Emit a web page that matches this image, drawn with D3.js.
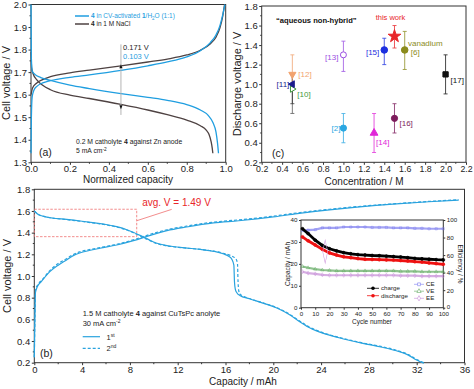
<!DOCTYPE html>
<html>
<head>
<meta charset="utf-8">
<script src="https://cdn.jsdelivr.net/npm/d3@7"></script>
<style>
  body { margin: 0; background: #fff; }
  svg { font-family: "Liberation Sans", Arial, sans-serif; }
</style>
</head>
<body>
<svg id="fig" width="474" height="389"></svg>
<script>
// ---- panel (a): normalized capacity vs voltage, [capacity, V]
var blueChg = [[0,1.34],[0.002,1.5],[0.006,1.59],[0.015,1.62],[0.03,1.637],[0.06,1.652],[0.1,1.662],[0.2,1.677],[0.3,1.688],[0.462,1.708],[0.6,1.728],[0.7,1.745],[0.8,1.768],[0.87,1.795],[0.92,1.83],[0.95,1.865],[0.97,1.905],[0.985,1.955],[0.996,2.0]];
var grayChg = [[0,1.60],[0.008,1.63],[0.03,1.652],[0.06,1.667],[0.1,1.68],[0.2,1.697],[0.3,1.709],[0.462,1.728],[0.6,1.745],[0.7,1.758],[0.8,1.776],[0.87,1.797],[0.92,1.825],[0.95,1.855],[0.97,1.895],[0.985,1.95],[0.994,2.0]];
var blueDis = [[0,2.0],[0.002,1.76],[0.006,1.705],[0.02,1.69],[0.05,1.676],[0.1,1.663],[0.2,1.642],[0.3,1.627],[0.462,1.605],[0.6,1.588],[0.7,1.575],[0.8,1.556],[0.87,1.532],[0.91,1.508],[0.935,1.475],[0.95,1.435],[0.958,1.385],[0.963,1.34]];
var grayDis = [[0,1.79],[0.003,1.72],[0.01,1.695],[0.03,1.666],[0.06,1.642],[0.1,1.622],[0.2,1.598],[0.3,1.583],[0.462,1.557],[0.6,1.532],[0.7,1.511],[0.8,1.487],[0.87,1.462],[0.9,1.443],[0.915,1.422],[0.925,1.392],[0.931,1.362],[0.934,1.34]];

// ---- panel (b): capacity (mAh) vs voltage
var chg1 = [[0,0.25],[0.05,0.6],[0.1,0.85],[0.25,0.9],[0.6,0.95],[1.3,1.04],[2,1.1],[2.7,1.148],[3.3,1.19],[3.8,1.212],[4.6,1.235],[5.5,1.256],[6.9,1.286],[8.3,1.326],[9.7,1.375],[11.1,1.418],[12.75,1.452],[15,1.49],[17.1,1.51],[20,1.545],[22,1.575],[24.7,1.61],[27,1.635],[30.3,1.665],[33,1.685],[35.5,1.70]];
var chg2 = [[0,0.25],[0.05,0.6],[0.1,0.87],[0.3,0.92],[0.7,0.97],[1.3,1.05],[2,1.115],[2.7,1.16],[3.3,1.2],[3.8,1.222],[4.6,1.243],[5.5,1.262],[6.9,1.293],[8.3,1.334],[9.7,1.385],[11.1,1.427],[12.75,1.46],[15,1.497],[17.1,1.518],[20,1.552],[22,1.582],[24.7,1.616],[27,1.64],[30.3,1.668],[33,1.688],[35.5,1.703]];
var dis1 = [[0,1.60],[0.3,1.57],[0.8,1.55],[1.5,1.535],[2.7,1.522],[4,1.505],[4.9,1.492],[6,1.475],[6.9,1.455],[7.8,1.425],[8.85,1.375],[9.5,1.34],[10.2,1.305],[10.9,1.285],[11.6,1.272],[12.8,1.258],[13.9,1.245],[15,1.228],[15.8,1.205],[16.3,1.18],[16.55,1.15],[16.7,1.10],[16.75,0.95],[16.82,0.88],[16.95,0.845],[17.2,0.82],[18,0.79],[19.2,0.748],[20.3,0.705],[21.4,0.64],[22.0,0.594],[23,0.525],[24.2,0.47],[25.5,0.43],[27.5,0.379],[29,0.345],[30.3,0.31],[31.3,0.27],[32,0.225],[32.6,0.195]];
var dis2 = [[0,1.60],[0.3,1.57],[0.8,1.55],[1.5,1.535],[2.7,1.52],[4,1.503],[4.9,1.49],[6,1.472],[6.9,1.452],[7.8,1.422],[8.85,1.37],[9.5,1.335],[10.2,1.30],[10.9,1.282],[11.6,1.27],[12.8,1.257],[13.9,1.245],[15,1.23],[15.8,1.21],[16.4,1.19],[16.85,1.16],[17.0,1.12],[17.05,0.95],[17.1,0.87],[17.2,0.835],[17.4,0.818],[18,0.792],[19.2,0.75],[20.3,0.707],[21.4,0.645],[22.0,0.6],[23,0.53],[24.2,0.475],[25.5,0.434],[27.5,0.382],[29,0.35],[30.3,0.315],[31.3,0.275],[32,0.23],[32.7,0.195]];
var avgV = 1.49;

// ---- inset: cycling
var cycles    = [1,5,10,15,20,25,30,35,40,45,50,55,60,65,70,75,80,85,90,95,100];
var capCharge = [36.0,33.8,30.8,28.4,26.9,25.9,25.1,24.6,24.2,24.0,23.8,23.7,23.5,23.3,23.1,22.8,22.5,22.3,22.1,21.9,21.8];
var capDisch  = [32.3,30.5,28.6,26.6,25.0,24.0,23.2,22.8,22.4,22.1,22.0,21.9,21.8,21.7,21.5,21.3,21.0,20.8,20.4,20.1,19.8];
var effCE     = [88,88.5,89,91,91,91,92,92,92,92,91.5,91.5,91.5,91,91,91,90.5,90.5,90,90,90];
var effVE     = [47,45.5,44,43,42.5,42,42,42,42,42,42,42,42,42,41.5,41.5,41.5,41,41,41,41];
var effEE     = [41,39.5,38.5,37.5,37,37,37,37,37,37,37,37,37,37,36.5,36.5,36.5,36,36,36,36];
var eeOutlier = [17, 64];

// ---- panel (c): literature comparison
var refs  = ["[2]","[10]","[11]","[12]","[13]","[14]","[15]","[16]","[6]","[17]","this work"];
var conc  = [1.0,0.5,0.5,0.5,1.0,1.3,1.4,1.5,1.6,2.0,1.5];
var volt  = [0.55,0.95,1.0,1.10,1.30,0.50,1.35,0.65,1.35,1.10,1.49];
var errLo = [0.40,0.70,0.80,0.95,1.13,0.30,1.20,0.50,1.15,0.90,1.37];
var errHi = [0.70,1.10,1.10,1.30,1.44,0.70,1.47,0.80,1.54,1.30,1.60];

var svg = d3.select("#fig");
var BLUE = "#1f9ee0", GRAY = "#4e4242", RED = "#e8262a";

// draws box, bottom + left axes with minor ticks
function frame(x, y, o) {
  var xr = x.range(), yr = y.range();
  var g = svg.append("g");
  var fs = o.fs || 9.5;
  var gx = g.append("g").attr("transform", "translate(0," + yr[0] + ")")
    .call(d3.axisBottom(x).tickValues(o.xt).tickFormat(o.xf).tickSizeInner(o.tk || 2.5).tickSizeOuter(0).tickPadding(o.xpad || 1.2));
  var gy = g.append("g").attr("transform", "translate(" + xr[0] + ",0)")
    .call(d3.axisLeft(y).tickValues(o.yt).tickFormat(o.yf).tickSizeInner(o.tk || 2.5).tickSizeOuter(0).tickPadding(1.5));
  [gx, gy].forEach(function(a) {
    a.select(".domain").remove();
    a.selectAll("text").attr("font-size", fs).attr("fill", "#222").attr("font-family", null);
    a.selectAll("line").attr("stroke", "#333");
  });
  if (o.xfs) gx.selectAll("text").attr("font-size", o.xfs);
  (o.xm || []).forEach(function(v) {
    g.append("line").attr("x1", x(v)).attr("x2", x(v)).attr("y1", yr[0]).attr("y2", yr[0] + 1.5).attr("stroke", "#333");
  });
  (o.ym || []).forEach(function(v) {
    g.append("line").attr("x1", xr[0]).attr("x2", xr[0] - 1.5).attr("y1", y(v)).attr("y2", y(v)).attr("stroke", "#333");
  });
  g.append("rect").attr("x", xr[0]).attr("y", yr[1]).attr("width", xr[1] - xr[0]).attr("height", yr[0] - yr[1])
    .attr("fill", "none").attr("stroke", "#333").attr("stroke-width", 1);
  return g;
}
function range(a, b, s) { var r = []; for (var v = a; v <= b + 1e-9; v += s) r.push(+v.toFixed(4)); return r; }
function ytitle(txt, x, y, fs) {
  svg.append("text").attr("transform", "translate(" + x + "," + y + ") rotate(-90)")
    .attr("text-anchor", "middle").attr("font-size", fs).attr("fill", "#222").text(txt);
}
function label(txt, x, y, fs, col, anchor) {
  return svg.append("text").attr("x", x).attr("y", y).attr("font-size", fs).attr("fill", col || "#222")
    .attr("text-anchor", anchor || "start").text(txt);
}

// ================= panel (a) =================
var xa = d3.scaleLinear().domain([0, 1]).range([31, 225.7]);
var ya = d3.scaleLinear().domain([1.3, 2.0]).range([162.3, 4.5]);
var lineA = d3.line().x(function(d) { return xa(d[0]); }).y(function(d) { return ya(d[1]); }).curve(d3.curveMonotoneX);

frame(xa, ya, { xt: range(0, 1, 0.2), xf: d3.format(".1f"), yt: range(1.3, 2.0, 0.1), yf: d3.format(".1f"),
  xm: range(0.1, 0.9, 0.2), ym: range(1.35, 1.95, 0.1), xpad: 0.5 });

[[grayChg, GRAY], [grayDis, GRAY], [blueChg, BLUE], [blueDis, BLUE]].forEach(function(s) {
  svg.append("path").attr("d", lineA(s[0])).attr("fill", "none").attr("stroke", s[1]).attr("stroke-width", 1.3);
});

// gap arrow
svg.append("line").attr("x1", xa(0.462)).attr("x2", xa(0.462)).attr("y1", ya(1.823)).attr("y2", ya(1.51))
  .attr("stroke", "#b5b5b5").attr("stroke-width", 1);
[[1.735, -1], [1.535, 1]].forEach(function(a) {
  var cx = xa(0.462), cy = ya(a[0]);
  svg.append("path").attr("d", "M" + cx + "," + cy + "l-1.6," + (-a[1] * 4) + "h3.2z").attr("fill", "#111");
});
label("0.171 V", 123, 50, 7.5, "#222");
label("0.103 V", 123, 58.5, 7.5, BLUE);

// legend (a)
svg.append("line").attr("x1", 75).attr("x2", 89).attr("y1", 16).attr("y2", 16).attr("stroke", BLUE).attr("stroke-width", 1.5);
svg.append("line").attr("x1", 75).attr("x2", 89).attr("y1", 24).attr("y2", 24).attr("stroke", GRAY).attr("stroke-width", 1.5);
var la = label("", 91, 18.3, 6.5, BLUE);
la.append("tspan").attr("font-weight", "bold").text("4");
la.append("tspan").text(" in CV-activated ");
la.append("tspan").attr("font-weight", "bold").text("1");
la.append("tspan").text("/H");
la.append("tspan").attr("font-size", 4.5).attr("dy", 1.5).text("2");
la.append("tspan").attr("dy", -1.5).text("O (1:1)");
var lb = label("", 91, 26.3, 6.5, "#222");
lb.append("tspan").attr("font-weight", "bold").text("4");
lb.append("tspan").text(" in 1 M NaCl");

var ta = label("", 76, 144, 6.8, "#222");
ta.append("tspan").text("0.2 M catholyte ");
ta.append("tspan").attr("font-weight", "bold").text("4");
ta.append("tspan").text(" against Zn anode");
var tb = label("5 mA cm", 76, 153, 6.8, "#222");
tb.append("tspan").attr("font-size", 4.8).attr("dy", -2.5).text("-2");
label("(a)", 39, 156, 10.5, "#222");

svg.append("text").attr("x", 128).attr("y", 183).attr("text-anchor", "middle").attr("font-size", 10).attr("fill", "#222").text("Normalized capacity");
ytitle("Cell voltage / V", 10, 83, 11);

// ================= panel (c) =================
var xc = d3.scaleLinear().domain([0.2, 2.2]).range([261.7, 466]);
var yc = d3.scaleLinear().domain([0.2, 1.8]).range([162.3, 6]);
frame(xc, yc, { xt: range(0.2, 2.2, 0.2), xf: d3.format(".1f"), yt: range(0.2, 1.8, 0.2), yf: d3.format(".1f"),
  xm: range(0.3, 2.1, 0.2), ym: range(0.3, 1.7, 0.2), xfs: 8.8 });

// marker styles per reference
var cStyle = {
  "[2]":  { c: "#2aa7e2", s: d3.symbolCircle, sz: 30, fill: true, lx: -3, ly: 3, a: "end" },
  "[10]": { c: "#3f9a3f", s: d3.symbolTriangle, rot: 90, sz: 18, fill: false, lx: 5, ly: 8, a: "start", eb: "#555" },
  "[11]": { c: "#1b1b8c", s: d3.symbolTriangle, rot: -90, sz: 20, fill: true, lx: -3, ly: 3, a: "end", eb: "#333" },
  "[12]": { c: "#f2a36e", s: d3.symbolTriangle, rot: 180, sz: 22, fill: true, lx: 6, ly: 3, a: "start" },
  "[13]": { c: "#9a4ee2", s: d3.symbolCircle, sz: 28, fill: false, lx: -5, ly: 5, a: "end" },
  "[14]": { c: "#e026d8", s: d3.symbolTriangle, sz: 26, fill: true, lx: 2, ly: 12, a: "start" },
  "[15]": { c: "#1c2fe0", s: d3.symbolCircle, sz: 34, fill: true, lx: -5, ly: 5, a: "end" },
  "[16]": { c: "#7d1c5c", s: d3.symbolCircle, sz: 30, fill: true, lx: 5, ly: 8, a: "start" },
  "[6]":  { c: "#8b8b1c", s: d3.symbolCircle, sz: 34, fill: true, lx: 6, ly: 5, a: "start" },
  "[17]": { c: "#111111", s: d3.symbolSquare, sz: 28, fill: true, lx: 5, ly: 9, a: "start" },
  "this work": { c: RED, s: d3.symbolStar, sz: 50, fill: true, lx: -4, ly: -16, a: "middle" }
};
refs.forEach(function(r, i) {
  var st = cStyle[r], px = xc(conc[i]);
  var eb = svg.append("g").attr("stroke", st.eb || st.c).attr("stroke-width", 0.9).attr("opacity", 0.85);
  eb.append("line").attr("x1", px).attr("x2", px).attr("y1", yc(errLo[i])).attr("y2", yc(errHi[i]));
  eb.append("line").attr("x1", px - 2).attr("x2", px + 2).attr("y1", yc(errLo[i])).attr("y2", yc(errLo[i]));
  eb.append("line").attr("x1", px - 2).attr("x2", px + 2).attr("y1", yc(errHi[i])).attr("y2", yc(errHi[i]));
});
refs.forEach(function(r, i) {
  var st = cStyle[r], px = xc(conc[i]), py = yc(volt[i]);
  svg.append("path").attr("d", d3.symbol().type(st.s).size(st.sz)())
    .attr("transform", "translate(" + px + "," + py + ") rotate(" + (st.rot || 0) + ")")
    .attr("fill", st.fill ? st.c : "#fff").attr("stroke", st.c).attr("stroke-width", 1);
  label(r, px + st.lx, py + st.ly, r === "this work" ? 7.5 : 8, st.c, st.a);
});
label("vanadium", 408, 45.5, 8, "#8b8b1c");
label("\u201Caqueous non-hybrid\u201D", 276, 23, 7.6, "#111").attr("font-weight", "bold");
label("(c)", 272, 156.5, 10.5, "#222");
svg.append("text").attr("x", 364).attr("y", 184.5).attr("text-anchor", "middle").attr("font-size", 10).attr("fill", "#222").text("Concentration / M");
ytitle("Discharge voltage / V", 241, 84, 11);

// ================= panel (b) =================
var xb = d3.scaleLinear().domain([0, 36]).range([34.3, 464.5]);
var yb = d3.scaleLinear().domain([0.2, 1.8]).range([362.7, 189.3]);
var lineB = d3.line().x(function(d) { return xb(d[0]); }).y(function(d) { return yb(d[1]); }).curve(d3.curveMonotoneX);
frame(xb, yb, { xt: range(0, 36, 4), xf: d3.format("d"), yt: range(0.2, 1.8, 0.2), yf: d3.format(".1f"),
  xm: range(2, 34, 4), ym: range(0.3, 1.7, 0.2) });

// avg voltage box
svg.append("rect").attr("x", xb(0)).attr("y", yb(1.616)).attr("width", xb(8.57) - xb(0)).attr("height", yb(1.363) - yb(1.616))
  .attr("fill", "none").attr("stroke", "#f08080").attr("stroke-width", 0.9).attr("stroke-dasharray", "2.5,1.5");
svg.append("line").attr("x1", xb(8.57)).attr("y1", yb(1.51)).attr("x2", xb(11.5)).attr("y2", yb(1.615))
  .attr("stroke", "#f08080").attr("stroke-width", 0.9);
label("avg. V = " + avgV.toFixed(2) + " V", 176.5, 205.5, 10, RED, "middle");

[[chg2, "3,2"], [dis2, "3,2"], [chg1, null], [dis1, null]].forEach(function(s) {
  svg.append("path").attr("d", lineB(s[0])).attr("fill", "none").attr("stroke", "#2aa3de").attr("stroke-width", 1.2)
    .attr("stroke-dasharray", s[1]);
});

var tc = label("", 82.7, 316, 7.5, "#222");
tc.append("tspan").text("1.5 M catholyte ");
tc.append("tspan").attr("font-weight", "bold").text("4");
tc.append("tspan").text(" against CuTsPc anolyte");
var td = label("30 mA cm", 82.7, 326, 7.5, "#222");
td.append("tspan").attr("font-size", 5).attr("dy", -2.8).text("-2");
svg.append("line").attr("x1", 82.7).attr("x2", 100).attr("y1", 336.7).attr("y2", 336.7).attr("stroke", "#2aa3de").attr("stroke-width", 1.2);
svg.append("line").attr("x1", 82.7).attr("x2", 100).attr("y1", 348.3).attr("y2", 348.3).attr("stroke", "#2aa3de").attr("stroke-width", 1.2).attr("stroke-dasharray", "3,2");
var l1 = label("1", 106.5, 339.5, 7.5, "#222"); l1.append("tspan").attr("font-size", 5).attr("dy", -3).text("st");
var l2 = label("2", 106.5, 351, 7.5, "#222"); l2.append("tspan").attr("font-size", 5).attr("dy", -3).text("nd");
label("(b)", 40, 357, 10.5, "#222");
svg.append("text").attr("x", 243).attr("y", 385).attr("text-anchor", "middle").attr("font-size", 10).attr("fill", "#222").text("Capacity / mAh");
ytitle("Cell voltage / V", 11, 276, 11);

// ================= inset =================
var xi = d3.scaleLinear().domain([0, 100]).range([301, 443.3]);
var yi = d3.scaleLinear().domain([0, 40]).range([307.7, 220]);
var ye = d3.scaleLinear().domain([0, 100]).range([307.7, 220]);
svg.append("rect").attr("x", 301).attr("y", 220).attr("width", 142.3).attr("height", 87.7).attr("fill", "#fff");
frame(xi, yi, { xt: range(0, 100, 10), xf: d3.format("d"), yt: range(0, 40, 10), yf: d3.format("d"), fs: 6.2, tk: 2, xpad: 2.2 });
var gr = svg.append("g").attr("transform", "translate(443.3,0)")
  .call(d3.axisRight(ye).tickValues(range(0, 100, 20)).tickSizeInner(2).tickSizeOuter(0).tickPadding(1.5));
gr.select(".domain").remove();
gr.selectAll("text").attr("font-size", 6.2).attr("fill", "#222").attr("font-family", null);
gr.selectAll("line").attr("stroke", "#333");
gr.selectAll(".tick").filter(function(d) { return d === 0; }).select("text").attr("dy", "0.1em");

function series(vals, scale, col, w, op, marker) {
  var pts = cycles.map(function(c, i) { return [xi(c), scale(vals[i])]; });
  svg.append("path").attr("d", d3.line()(pts)).attr("fill", "none").attr("stroke", col).attr("stroke-width", w).attr("opacity", op);
  pts.forEach(function(p) {
    svg.append("path").attr("d", d3.symbol().type(marker.s).size(marker.sz)()).attr("transform", "translate(" + p[0] + "," + p[1] + ")")
      .attr("fill", marker.fill ? col : "none").attr("stroke", col).attr("stroke-width", 0.6).attr("opacity", op);
  });
}
series(effCE, ye, "#7c7cf0", 2.2, 0.7, { s: d3.symbolSquare, sz: 5, fill: false });
series(effVE, ye, "#5fa85f", 2.2, 0.7, { s: d3.symbolTriangle, sz: 5, fill: false });
series(effEE, ye, "#c48ad6", 2.2, 0.7, { s: d3.symbolDiamond, sz: 5, fill: false });
series(capDisch, yi, "#ee1111", 2.8, 1, { s: d3.symbolCircle, sz: 7, fill: true });
series(capCharge, yi, "#000", 2.8, 1, { s: d3.symbolCircle, sz: 7, fill: true });
svg.append("path").attr("d", d3.symbol().type(d3.symbolDiamond).size(60)())
  .attr("transform", "translate(" + xi(eeOutlier[0]) + "," + ye(eeOutlier[1]) + ") scale(0.6,1.6)")
  .attr("fill", "none").attr("stroke", "#d09adc").attr("stroke-width", 0.8);

// inset legend
[["charge", "#000", 288.3], ["discharge", "#ee1111", 295.7]].forEach(function(l) {
  svg.append("line").attr("x1", 367).attr("x2", 379).attr("y1", l[2]).attr("y2", l[2]).attr("stroke", l[1]).attr("stroke-width", 0.8);
  svg.append("circle").attr("cx", 373).attr("cy", l[2]).attr("r", 1.8).attr("fill", l[1]);
  label(l[0], 381, l[2] + 2, 6.2, "#222");
});
[["CE", "#7c7cf0", 284.3, d3.symbolSquare], ["VE", "#5fa85f", 291.2, d3.symbolTriangle], ["EE", "#c48ad6", 298.3, d3.symbolDiamond]].forEach(function(l) {
  svg.append("line").attr("x1", 414).attr("x2", 424).attr("y1", l[2]).attr("y2", l[2]).attr("stroke", l[1]).attr("stroke-width", 0.6);
  svg.append("path").attr("d", d3.symbol().type(l[3]).size(8)()).attr("transform", "translate(419," + l[2] + ")")
    .attr("fill", "#fff").attr("stroke", l[1]).attr("stroke-width", 0.6);
  label(l[0], 426, l[2] + 2, 6.2, "#222");
});
svg.append("text").attr("x", 372).attr("y", 324).attr("text-anchor", "middle").attr("font-size", 6.5).attr("fill", "#222").text("Cycle number");
ytitle("Capacity / mAh", 290, 264, 6.5);
svg.append("text").attr("transform", "translate(457.5,264) rotate(90)").attr("text-anchor", "middle")
  .attr("font-size", 6.5).attr("fill", "#222").text("Efficiency / %");
</script>
</body>
</html>
